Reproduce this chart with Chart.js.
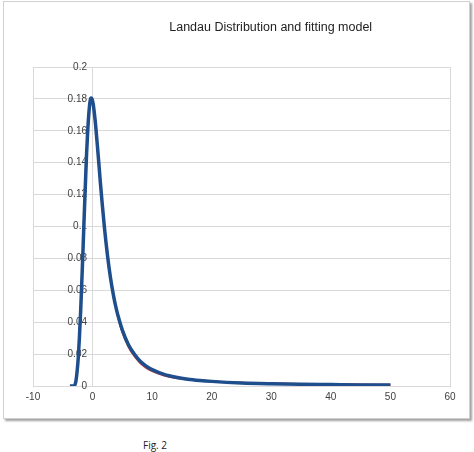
<!DOCTYPE html>
<html>
<head>
<meta charset="utf-8">
<script src="https://cdn.jsdelivr.net/npm/chart.js@4/dist/chart.umd.min.js"></script>
<style>
  html, body { margin: 0; padding: 0; background: #fff; }
  body { width: 474px; height: 452px; position: relative; overflow: hidden; }
  #frame { position: absolute; left: 3px; top: 1px; width: 465px; height: 416px;
           border: 1px solid #d0d0d0; box-shadow: 2px 2px 2px #a0a0a0; }
  #chart { position: absolute; left: 0; top: 0; }
  #fig { position: absolute; left: 143px; top: 438px; font: 10px "Open Sans", sans-serif; color: #222; }
</style>
</head>
<body>
<div id="frame"></div>
<canvas id="chart" width="474" height="420"></canvas>
<div id="fig">Fig. 2</div>
<script>
const title = "Landau Distribution and fitting model";

// x positions of the sampled curve
const xs = [-3.8, -3.3, -3.0, -2.8, -2.6, -2.4, -2.2, -2.0, -1.8, -1.6, -1.4, -1.2, -1.0, -0.8, -0.6, -0.4,
  -0.25, -0.1, 0.1, 0.3, 0.5, 0.8, 1.0, 1.3, 1.6, 2.0, 2.5, 3.0, 3.5, 4.0, 4.5, 5, 6, 7, 8, 9, 10,
  12, 14, 16, 18, 20, 25, 30, 35, 40, 45, 50];

// Landau distribution (blue)
const landau = [0, 0, 0.0005, 0.003, 0.009, 0.018, 0.031, 0.047, 0.066, 0.086, 0.107, 0.127, 0.146, 0.161, 0.172, 0.179,
  0.1805, 0.180, 0.177, 0.171, 0.164, 0.151, 0.142, 0.128, 0.115, 0.099, 0.082, 0.068, 0.057, 0.048, 0.041, 0.035, 0.026, 0.020, 0.0155, 0.0125, 0.0103,
  0.0073, 0.0055, 0.0043, 0.0035, 0.0029, 0.0019, 0.0014, 0.0011, 0.0009, 0.0007, 0.0006];

// fitting model (red)
const model = [0, 0, 0.0005, 0.003, 0.009, 0.018, 0.031, 0.047, 0.066, 0.086, 0.107, 0.127, 0.146, 0.161, 0.172, 0.179,
  0.1805, 0.180, 0.177, 0.171, 0.164, 0.151, 0.142, 0.128, 0.115, 0.099, 0.082, 0.068, 0.057, 0.048, 0.040, 0.0338, 0.0248, 0.0188, 0.0144, 0.0114, 0.0093,
  0.0066, 0.0050, 0.0040, 0.0034, 0.0029, 0.0021, 0.0016, 0.0013, 0.0011, 0.0009, 0.0008];

const xTicks = [-10, 0, 10, 20, 30, 40, 50, 60];

const gridColor = "#d9d9d9";
const tickColor = "#404040";

const titlePlugin = {
  id: "offsetTitle",
  afterDraw(chart) {
    const { ctx, chartArea } = chart;
    ctx.save();
    ctx.font = '12.5px "Liberation Sans", Arial, sans-serif';
    ctx.fillStyle = "#222";
    ctx.textAlign = "center";
    ctx.textBaseline = "middle";
    ctx.fillText(title, chartArea.left + chartArea.width * 0.57, 28);
    ctx.restore();
  }
};

new Chart(document.getElementById("chart"), {
  type: "line",
  data: {
    datasets: [
      {
        label: "Landau Distribution",
        data: xs.map((x, i) => ({ x: x, y: landau[i] })),
        borderColor: "#1f4e8c",
        borderWidth: 3.5,
        pointRadius: 0,
        cubicInterpolationMode: "monotone",
        fill: false,
      },
      {
        label: "fitting model",
        data: xs.map((x, i) => ({ x: x, y: model[i] })),
        borderColor: "#d03a2f",
        borderWidth: 2,
        pointRadius: 0,
        cubicInterpolationMode: "monotone",
        fill: false,
      },
    ],
  },
  options: {
    responsive: false,
    animation: false,
    layout: { padding: { left: 33, right: 24, top: 67, bottom: 12 } },
    plugins: {
      legend: { display: false },
      title: { display: false },
      tooltip: { enabled: false },
    },
    scales: {
      x: {
        type: "linear",
        min: -10,
        max: 60,
        afterBuildTicks: (axis) => { axis.ticks = xTicks.map(v => ({ value: v })); },
        grid: {
          drawTicks: false,
          color: (c) => [-10, 0, 60].includes(c.tick.value) ? gridColor : "transparent",
        },
        border: { color: gridColor },
        ticks: {
          padding: 5,
          color: tickColor,
          font: { family: '"Liberation Sans", Arial, sans-serif', size: 10 },
        },
      },
      y: {
        position: { x: 0 },
        min: 0,
        max: 0.2,
        grid: { drawTicks: false, color: gridColor },
        border: { color: gridColor },
        ticks: {
          stepSize: 0.02,
          color: tickColor,
          font: { family: '"Liberation Sans", Arial, sans-serif', size: 10 },
          // trailing spaces keep the right-aligned labels clear of the axis line
          callback: (v) => String(+v.toFixed(2)) + "  ",
        },
      },
    },
  },
  plugins: [titlePlugin],
});
</script>
</body>
</html>
